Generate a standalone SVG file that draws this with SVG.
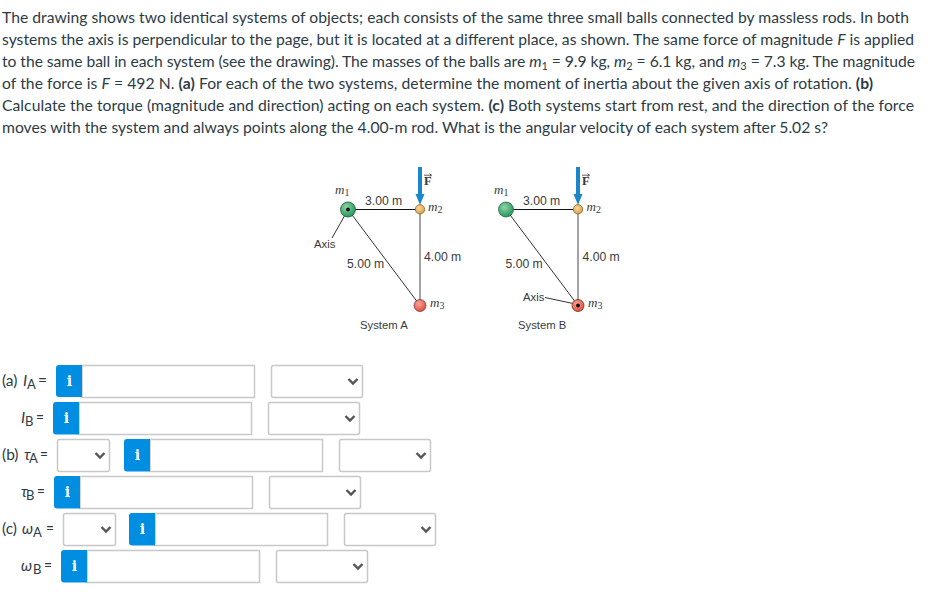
<svg xmlns="http://www.w3.org/2000/svg" width="928" height="592" viewBox="0 0 928 592">
<style>
text{font-family:"Lato","Liberation Sans",sans-serif}
.p{font-size:15.7px;fill:#2d3b45}
.b{font-weight:700}
.l{font-size:15.5px;fill:#2d3b45}
.i{font-style:italic}
.s{font-size:11px}
.sub{font-size:13px;fill:#2d3b45}
.d{font-family:"Liberation Sans",Arial,sans-serif;font-size:12.200px;fill:#3a3a3a}
.w{font-family:"Liberation Sans",Arial,sans-serif;font-size:11.300px;fill:#3a3a3a}
.m{font-family:"Liberation Serif",serif;font-style:italic;font-size:13px;fill:#3a3a3a}
.ms{font-size:10px;font-style:normal}
.f{font-family:"Liberation Serif",serif;font-weight:700;font-size:12.500px;fill:#3a3a3a}
.box{fill:#fff;stroke:#c8c8c8;stroke-width:1.5}
.btn{fill:#008ee2}
.it{font-family:"DejaVu Serif",serif;font-weight:700;font-size:14px;fill:#fff;text-anchor:middle}
.chev{fill:none;stroke:#555;stroke-width:2.400}
.thin{stroke:#333;stroke-width:1;fill:none}
.rod{stroke:#9a9a9a;stroke-width:1.800;fill:none}
.top{stroke:#111;stroke-width:1.200;fill:none}
.arr{stroke:#1b87c9;stroke-width:4;fill:none}
.head{fill:#1b87c9}
.vec{stroke:#3a3a3a;stroke-width:.8;fill:none}
</style>
<defs>
<radialGradient id="g1" cx=".4" cy=".35" r=".7"><stop offset="0" stop-color="#8fd4a8"/><stop offset="1" stop-color="#1c9455"/></radialGradient>
<radialGradient id="g2" cx=".4" cy=".35" r=".7"><stop offset="0" stop-color="#f6d9a2"/><stop offset="1" stop-color="#d99a3e"/></radialGradient>
<radialGradient id="g3" cx=".4" cy=".35" r=".7"><stop offset="0" stop-color="#f9a596"/><stop offset="1" stop-color="#dd4a3f"/></radialGradient>
</defs>

<g id="problem-text" class="p">
<text x="2" y="23" textLength="907">The drawing shows two identical systems of objects; each consists of the same three small balls connected by massless rods. In both</text>
<text x="2" y="45" textLength="912">systems the axis is perpendicular to the page, but it is located at a different place, as shown. The same force of magnitude <tspan class="i">F</tspan> is applied</text>
<text x="2" y="67" textLength="913">to the same ball in each system (see the drawing). The masses of the balls are <tspan class="i">m</tspan><tspan class="s" dy="3">1</tspan><tspan dy="-3"> = 9.9 kg, </tspan><tspan class="i">m</tspan><tspan class="s" dy="3">2</tspan><tspan dy="-3"> = 6.1 kg, and </tspan><tspan class="i">m</tspan><tspan class="s" dy="3">3</tspan><tspan dy="-3"> = 7.3 kg. The magnitude</tspan></text>
<text x="2" y="89" textLength="871">of the force is <tspan class="i">F</tspan> = 492 N. <tspan class="b">(a)</tspan> For each of the two systems, determine the moment of inertia about the given axis of rotation. <tspan class="b">(b)</tspan></text>
<text x="2" y="111" textLength="912">Calculate the torque (magnitude and direction) acting on each system. <tspan class="b">(c)</tspan> Both systems start from rest, and the direction of the force</text>
<text x="2" y="133" textLength="826">moves with the system and always points along the 4.00-m rod. What is the angular velocity of each system after 5.02 s?</text>
</g>

<g id="connectors">
<path class="top" d="M348 209.500H420"/>
<path class="rod" d="M420 209V305"/>
<path class="thin" d="M348 209.500L420 305.500"/>
<path class="thin" d="M345 215L332 238"/>
<path class="arr" d="M420 167V196"/>
<path class="head" d="M415.500 194H424.500L420 205Z"/>
<path class="top" d="M506 209.500H578"/>
<path class="rod" d="M578 209V305"/>
<path class="thin" d="M506 209.500L578 305.500"/>
<path class="thin" d="M545 297.500L573 303.500"/>
<path class="arr" d="M578 167V196"/>
<path class="head" d="M573.500 194H582.500L578 205Z"/>
</g>

<g id="system-a">
<g id="a-m1"><circle cx="348" cy="209.500" r="7.500" fill="url(#g1)" stroke="#1c5a3a" stroke-width=".8"/><circle cx="348" cy="209.500" r="1.900" fill="#111"/><text class="m" x="335" y="194">m<tspan class="ms" dy="2">1</tspan></text></g>
<g id="a-m2"><circle cx="420" cy="209.300" r="4.700" fill="url(#g2)" stroke="#7a5a20" stroke-width=".7"/><text class="m" x="428" y="211">m<tspan class="ms" dy="2">2</tspan></text></g>
<g id="a-m3"><circle cx="420" cy="305.500" r="6" fill="url(#g3)" stroke="#7a2a20" stroke-width=".7"/><text class="m" x="430" y="307">m<tspan class="ms" dy="2">3</tspan></text></g>
<text class="f" x="424" y="185">F</text>
<path class="vec" d="M424 175.200h7.500m-2-1.500l2 1.500-2 1.500"/>
<text class="d" x="365" y="205">3.00 m</text>
<text class="d" x="424" y="260.500">4.00 m</text>
<text class="d" x="347" y="267.500">5.00 m</text>
<text class="w" x="314" y="247.500">Axis</text>
<text class="w" x="360" y="329">System A</text>
</g>

<g id="system-b">
<g id="b-m1"><circle cx="506" cy="209.500" r="7.500" fill="url(#g1)" stroke="#1c5a3a" stroke-width=".7"/><text class="m" x="494" y="194">m<tspan class="ms" dy="2">1</tspan></text></g>
<g id="b-m2"><circle cx="578" cy="209.300" r="4.700" fill="url(#g2)" stroke="#7a5a20" stroke-width=".7"/><text class="m" x="586.500" y="211">m<tspan class="ms" dy="2">2</tspan></text></g>
<g id="b-m3"><circle cx="578" cy="305.500" r="6" fill="url(#g3)" stroke="#7a2a20" stroke-width=".8"/><circle cx="578" cy="305.500" r="1.900" fill="#111"/><text class="m" x="588" y="307">m<tspan class="ms" dy="2">3</tspan></text></g>
<text class="f" x="582" y="185">F</text>
<path class="vec" d="M582 175.200h7.500m-2-1.500l2 1.500-2 1.500"/>
<text class="d" x="523" y="205">3.00 m</text>
<text class="d" x="582.500" y="260.500">4.00 m</text>
<text class="d" x="505.500" y="267.500">5.00 m</text>
<text class="w" x="523" y="300.500">Axis</text>
<text class="w" x="518" y="329">System B</text>
</g>

<g id="row-a-ia">
<text class="l" x="2" y="386">(a)</text><text class="l i" x="23" y="386">I</text><text class="sub" x="27" y="389">A</text><text class="l" x="38" y="386" textLength="9" lengthAdjust="spacingAndGlyphs">=</text>
<rect class="box" x="82" y="365.500" width="172.500" height="32"/>
<path class="btn" d="M59 365H82V397H59a3 3 0 0 1-3-3V368a3 3 0 0 1 3-3Z"/><text class="it" x="69.500" y="385.500">i</text>
<rect class="box" x="271.500" y="365.500" width="91" height="32" rx="2"/><path class="chev" d="M348.500 379l4.500 4.500 4.500-4.500"/>
</g>
<g id="row-a-ib">
<text class="l i" x="21" y="423">I</text><text class="sub" x="25" y="426">B</text><text class="l" x="36" y="423" textLength="8" lengthAdjust="spacingAndGlyphs">=</text>
<rect class="box" x="79" y="402.500" width="172.500" height="32"/>
<path class="btn" d="M56 402H79V434.500H56a3 3 0 0 1-3-3V405a3 3 0 0 1 3-3Z"/><text class="it" x="66.500" y="422.500">i</text>
<rect class="box" x="268.500" y="402.500" width="91" height="32" rx="2"/><path class="chev" d="M345.500 416l4.500 4.500 4.500-4.500"/>
</g>
<g id="row-b-ta">
<text class="l" x="2" y="460">(b)</text><text class="l i" x="24" y="460">τ</text><text class="sub" x="29" y="463">A</text><text class="l" x="40" y="460" textLength="8" lengthAdjust="spacingAndGlyphs">=</text>
<rect class="box" x="57.500" y="439.500" width="52" height="32" rx="2"/><path class="chev" d="M95.500 453l4.500 4.500 4.500-4.500"/>
<rect class="box" x="150" y="439.500" width="172.500" height="32"/>
<path class="btn" d="M127 439H150V471.500H127a3 3 0 0 1-3-3V442a3 3 0 0 1 3-3Z"/><text class="it" x="137.500" y="459.500">i</text>
<rect class="box" x="339.500" y="439.500" width="91" height="32" rx="2"/><path class="chev" d="M416.500 453l4.500 4.500 4.500-4.500"/>
</g>
<g id="row-b-tb">
<text class="l i" x="21" y="497">τ</text><text class="sub" x="26" y="500">B</text><text class="l" x="37" y="497" textLength="8" lengthAdjust="spacingAndGlyphs">=</text>
<rect class="box" x="80" y="476.500" width="172.500" height="32"/>
<path class="btn" d="M57 476H80V508.500H57a3 3 0 0 1-3-3V479a3 3 0 0 1 3-3Z"/><text class="it" x="67.500" y="496.500">i</text>
<rect class="box" x="269.500" y="476.500" width="91" height="32" rx="2"/><path class="chev" d="M346.500 490l4.500 4.500 4.500-4.500"/>
</g>
<g id="row-c-wa">
<text class="l" x="2" y="534">(c)</text><text class="l i" x="22" y="534">ω</text><text class="sub" x="33" y="537">A</text><text class="l" x="46" y="534" textLength="8" lengthAdjust="spacingAndGlyphs">=</text>
<rect class="box" x="63.500" y="513.500" width="52" height="32" rx="2"/><path class="chev" d="M101.500 527l4.500 4.500 4.500-4.500"/>
<rect class="box" x="155" y="513.500" width="172.500" height="32"/>
<path class="btn" d="M132 513H155V545.500H132a3 3 0 0 1-3-3V516a3 3 0 0 1 3-3Z"/><text class="it" x="142.500" y="533.500">i</text>
<rect class="box" x="344.500" y="513.500" width="91" height="32" rx="2"/><path class="chev" d="M421.500 527l4.500 4.500 4.500-4.500"/>
</g>
<g id="row-c-wb">
<text class="l i" x="21" y="571">ω</text><text class="sub" x="33" y="574">B</text><text class="l" x="44" y="571" textLength="8" lengthAdjust="spacingAndGlyphs">=</text>
<rect class="box" x="87" y="550.500" width="172.500" height="32"/>
<path class="btn" d="M64 550H87V582.500H64a3 3 0 0 1-3-3V553a3 3 0 0 1 3-3Z"/><text class="it" x="74.500" y="570.500">i</text>
<rect class="box" x="276.500" y="550.500" width="91" height="32" rx="2"/><path class="chev" d="M353.500 564l4.500 4.500 4.500-4.500"/>
</g>
</svg>
